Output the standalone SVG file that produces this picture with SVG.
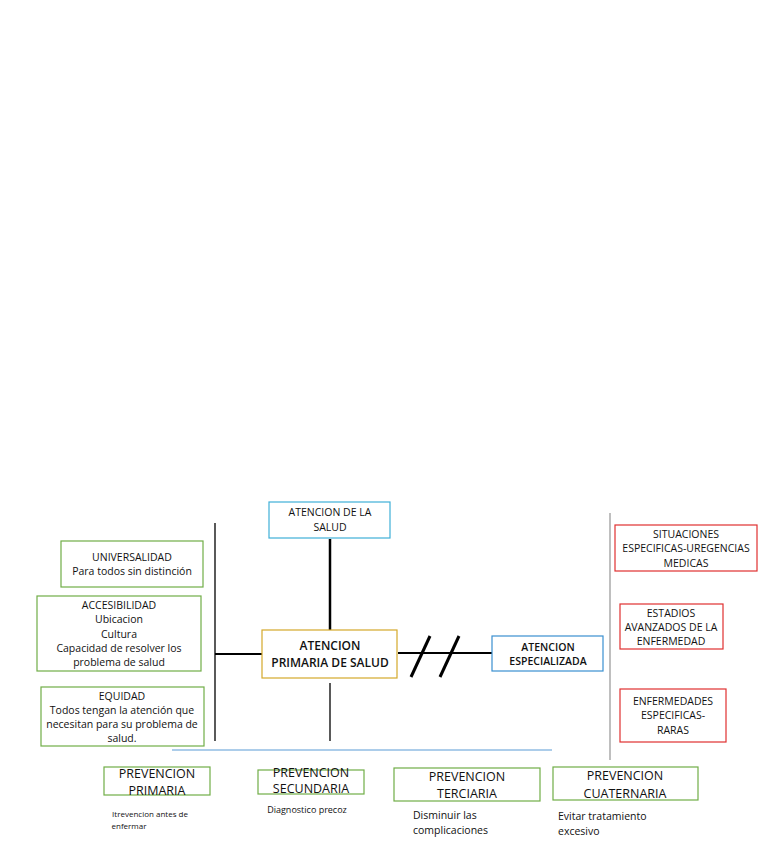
<svg xmlns="http://www.w3.org/2000/svg" width="768" height="866" viewBox="0 0 768 866">
<style>
text{font-family:"Open Sans","Liberation Sans",sans-serif;fill:#111;text-anchor:middle}
.s{font-size:10.5px}.b{font-size:12px;font-weight:600}.p{font-size:12.5px}
.g{fill:#fff;stroke:#70ad47;stroke-width:1.2}
.r{fill:#fff;stroke:#e03030;stroke-width:1.2}
</style>
<rect width="768" height="866" fill="#fff"/>
<g id="connectors" stroke="#000">
<line x1="215" y1="523" x2="215" y2="741" stroke-width="1.3"/>
<line x1="215" y1="654" x2="262" y2="654" stroke-width="2"/>
<line x1="330" y1="539" x2="330" y2="630" stroke-width="2.5"/>
<line x1="330" y1="683" x2="330" y2="741" stroke-width="1.3"/>
<line x1="398" y1="653" x2="492" y2="653" stroke-width="2"/>
<line x1="411" y1="677" x2="430" y2="636" stroke-width="3"/>
<line x1="440" y1="677" x2="459" y2="636" stroke-width="3"/>
<line x1="610" y1="513" x2="610" y2="760" stroke="#aaa" stroke-width="1.5"/>
<line x1="172" y1="750" x2="552" y2="750" stroke="#5b9bd5" stroke-width="1.2"/>
</g>
<g id="atencion-salud"><rect x="269" y="502" width="121" height="36" fill="#fff" stroke="#3fb0d8" stroke-width="1.2"/><text class="s" x="330" y="516">ATENCION DE LA</text><text class="s" x="330" y="531">SALUD</text></g>
<g id="aps"><rect x="262" y="630" width="135" height="48" fill="#fff" stroke="#d4a82a" stroke-width="1.2"/><text class="b" x="330" y="650">ATENCION</text><text class="b" x="330" y="667">PRIMARIA DE SALUD</text></g>
<g id="especializada"><rect x="492" y="636" width="111" height="35" fill="#fff" stroke="#3a8fd0" stroke-width="1.2"/><text class="s" x="548" y="651" font-weight="600">ATENCION</text><text class="s" x="548" y="665" font-weight="600">ESPECIALIZADA</text></g>
<g id="universalidad"><rect class="g" x="61" y="541" width="142" height="46"/><text class="s" x="132" y="561">UNIVERSALIDAD</text><text class="s" x="132" y="575">Para todos sin distinción</text></g>
<g id="accesibilidad"><rect class="g" x="37" y="596" width="164" height="75"/><text class="s" x="119" y="609">ACCESIBILIDAD</text><text class="s" x="119" y="623">Ubicacion</text><text class="s" x="119" y="638">Cultura</text><text class="s" x="119" y="652">Capacidad de resolver los</text><text class="s" x="119" y="666">problema de salud</text></g>
<g id="equidad"><rect class="g" x="41" y="687" width="163" height="59"/><text class="s" x="122" y="700">EQUIDAD</text><text class="s" x="122" y="714">Todos tengan la atención que</text><text class="s" x="122" y="728">necesitan para su problema de</text><text class="s" x="122" y="742">salud.</text></g>
<g id="situaciones"><rect class="r" x="615" y="525" width="142" height="46"/><text class="s" x="686" y="538">SITUACIONES</text><text class="s" x="686" y="552">ESPECIFICAS-UREGENCIAS</text><text class="s" x="686" y="567">MEDICAS</text></g>
<g id="estadios"><rect class="r" x="620" y="604" width="103" height="45"/><text class="s" x="671" y="617">ESTADIOS</text><text class="s" x="671" y="631">AVANZADOS DE LA</text><text class="s" x="671" y="645">ENFERMEDAD</text></g>
<g id="enfermedades"><rect class="r" x="620" y="689" width="106" height="53"/><text class="s" x="673" y="705">ENFERMEDADES</text><text class="s" x="673" y="719">ESPECIFICAS-</text><text class="s" x="673" y="734">RARAS</text></g>
<g id="primaria"><rect class="g" x="104" y="767" width="106" height="28"/><text class="p" x="157" y="778">PREVENCION</text><text class="p" x="157" y="795">PRIMARIA</text><text x="150" y="817" font-size="8" text-anchor="middle">Itrevencion antes de</text><text x="129" y="829" font-size="8" text-anchor="middle">enfermar</text></g>
<g id="secundaria"><rect class="g" x="258" y="770" width="106" height="24"/><text class="p" x="311" y="777">PREVENCION</text><text class="p" x="311" y="793">SECUNDARIA</text><text x="307" y="813" font-size="9">Diagnostico precoz</text></g>
<g id="terciaria"><rect class="g" x="394" y="768" width="146" height="33"/><text class="p" x="467" y="781">PREVENCION</text><text class="p" x="467" y="798">TERCIARIA</text><text x="413" y="819" font-size="10.5" style="text-anchor:start">Disminuir las</text><text x="413" y="834" font-size="10.5" style="text-anchor:start">complicaciones</text></g>
<g id="cuaternaria"><rect class="g" x="553" y="767" width="145" height="33"/><text class="p" x="625" y="780">PREVENCION</text><text class="p" x="625" y="798">CUATERNARIA</text><text x="558" y="820" font-size="10.5" style="text-anchor:start">Evitar tratamiento</text><text x="558" y="835" font-size="10.5" style="text-anchor:start">excesivo</text></g>
</svg>
